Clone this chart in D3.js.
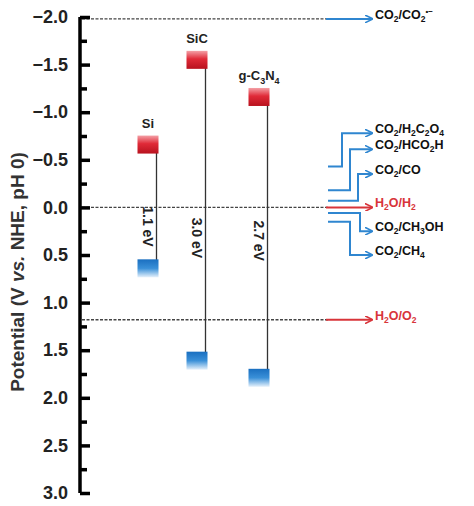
<!DOCTYPE html>
<html><head><meta charset="utf-8">
<script src="https://cdn.jsdelivr.net/npm/d3@7"></script>
<style>body{margin:0;background:#fff}text{font-family:"Liberation Sans",Arial,sans-serif}</style>
</head><body><svg id="c" width="474" height="506"></svg>
<script>
const majorTicks=[-2.0,-1.5,-1.0,-0.5,0.0,0.5,1.0,1.5,2.0,2.5,3.0];
const minorTicks=[-1.75,-1.25,-0.75,-0.25,0.25,0.75,1.25,1.75,2.25,2.75];
const materials=["Si","SiC","g-C3N4"];
const cbValues=[-0.66,-1.55,-1.16];
const vbValues=[0.64,1.61,1.79];
const gapLabels=["1.1 eV","3.0 eV","2.7 eV"];
const refLevels=[-1.98,0.0,1.18];
const refLabels=["CO₂/CO₂•⁻","H₂O/H₂","H₂O/O₂"];
const refColors=["blue","red","red"];
const co2Labels=["CO₂/H₂C₂O₄","CO₂/HCO₂H","CO₂/CO","CO₂/CH₃OH","CO₂/CH₄"];
const co2Starts=[-0.43,-0.18,-0.07,0.06,0.15];
const co2Targets=[-0.78,-0.61,-0.35,0.25,0.50];

const svg=d3.select("#c");
const y=d3.scaleLinear().domain([-2,3]).range([17,493]);
const BLUE="#2f86d0",RED="#d8343a";
const defs=svg.append("defs");
const gr=defs.append("linearGradient").attr("id","gr").attr("x1",0).attr("x2",0).attr("y1",0).attr("y2",1);
gr.append("stop").attr("offset",0).attr("stop-color","#f4a0a6");
gr.append("stop").attr("offset",0.45).attr("stop-color","#e02a38");
gr.append("stop").attr("offset",1).attr("stop-color","#b8121e");
const gb=defs.append("linearGradient").attr("id","gb").attr("x1",0).attr("x2",0).attr("y1",0).attr("y2",1);
gb.append("stop").attr("offset",0).attr("stop-color","#1a6fc0");
gb.append("stop").attr("offset",0.5).attr("stop-color","#3a90d8");
gb.append("stop").attr("offset",1).attr("stop-color","#e6f1fb");
[["ab",BLUE],["ar",RED]].forEach(([id,c])=>{
 defs.append("marker").attr("id",id).attr("viewBox","0 0 10 10").attr("refX",9).attr("refY",5)
  .attr("markerWidth",8).attr("markerHeight",8).attr("markerUnits","userSpaceOnUse").attr("orient","auto")
  .append("path").attr("d","M0,0L10,5L0,10").attr("fill","none").attr("stroke",c).attr("stroke-width",2);
});

refLevels.forEach(v=>{
 svg.append("line").attr("x1",82).attr("x2",328).attr("y1",y(v)).attr("y2",y(v))
  .attr("stroke","#444").attr("stroke-width",1.3).attr("stroke-dasharray","3,1.5");
});
const ax=svg.append("g").attr("transform","translate(80,0)");
const maj=ax.append("g").call(d3.axisLeft(y).tickValues(majorTicks).tickSize(-10).tickPadding(12).tickFormat(d=>d3.format(".1f")(d).replace("-","−")));
const mnr=ax.append("g").call(d3.axisLeft(y).tickValues(minorTicks).tickSize(-7).tickFormat(""));
ax.selectAll(".domain").remove();
ax.append("line").attr("x1",0).attr("x2",0).attr("y1",y(-2)).attr("y2",y(3)).attr("stroke","#000").attr("stroke-width",3.5);
ax.selectAll(".tick line").attr("stroke","#000").attr("stroke-width",3.5);
maj.selectAll(".tick text").attr("font-size",18).attr("font-weight","bold").attr("fill","#222");
svg.append("text").attr("transform","translate(24,272) rotate(-90)").attr("text-anchor","middle")
 .attr("font-size",19).attr("font-weight","bold").attr("fill","#333")
 .html('Potential (V <tspan font-style="italic">vs.</tspan> NHE, pH 0)');

const gapY=[0.2,0.32,0.35];
materials.forEach((m,i)=>{
 const cx=[148,197,259][i], w=21,h=18;
 svg.append("line").attr("x1",cx+w/2-2).attr("x2",cx+w/2-2).attr("y1",y(cbValues[i])).attr("y2",y(vbValues[i]))
  .attr("stroke","#333").attr("stroke-width",1.3);
 svg.append("rect").attr("x",cx-w/2).attr("y",y(cbValues[i])-h/2).attr("width",w).attr("height",h).attr("fill","url(#gr)");
 svg.append("rect").attr("x",cx-w/2).attr("y",y(vbValues[i])-h/2).attr("width",w).attr("height",h).attr("fill","url(#gb)");
 const t=svg.append("text").attr("x",cx).attr("y",y(cbValues[i])-h/2-8).attr("text-anchor","middle")
  .attr("font-size",13).attr("font-weight","bold").attr("fill","#222");
 if(m==="g-C3N4") t.html('g-C<tspan font-size="9" dy="4">3</tspan><tspan dy="-4">N</tspan><tspan font-size="9" dy="4">4</tspan>');
 else t.text(m);
 svg.append("text").attr("transform",`translate(${cx},${y(gapY[i])}) rotate(90)`).attr("text-anchor","middle")
  .attr("dy","0.35em").attr("font-size",14).attr("font-weight","bold").attr("fill","#222").text(gapLabels[i]);
});

function label(xp,yp,s,col){
 const t=svg.append("text").attr("x",xp).attr("y",yp).attr("dy","0.35em").attr("font-size",12.5)
  .attr("font-weight","bold").attr("fill",col);
 const parts=s.split(/([₀-₉]+|[•⁻]+)/);
 let shift=0;
 parts.forEach(p=>{ if(!p) return;
  let ns=0,txt=p,fs=null;
  if(/^[₀-₉]+$/.test(p)){ns=3;txt=p.replace(/[₀-₉]/g,c=>String.fromCharCode(c.charCodeAt(0)-0x2080+48));fs=8.5;}
  else if(/^[•⁻]+$/.test(p)){ns=-5;txt=p.replace("⁻","−");fs=8;}
  const ts=t.append("tspan").attr("dy",ns-shift).text(txt); if(fs) ts.attr("font-size",fs); shift=ns;
 });
}
refLevels.forEach((v,i)=>{
 const c=refColors[i]==="blue"?BLUE:RED;
 svg.append("line").attr("x1",326).attr("x2",372).attr("y1",y(v)).attr("y2",y(v)).attr("stroke",c).attr("stroke-width",2)
  .attr("marker-end",`url(#${refColors[i]==="blue"?"ab":"ar"})`);
 label(375,y(v),refLabels[i],c===RED?RED:"#111");
});
const turnX=[342,350,358,360,350];
co2Labels.forEach((l,i)=>{
 const y0=y(co2Starts[i]),y1=y(co2Targets[i]),tx=turnX[i];
 svg.append("path").attr("d",`M328,${y0}H${tx}V${y1}H372`).attr("fill","none").attr("stroke",BLUE)
  .attr("stroke-width",2).attr("marker-end","url(#ab)");
 label(375,y1,l,"#111");
});
</script></body></html>
